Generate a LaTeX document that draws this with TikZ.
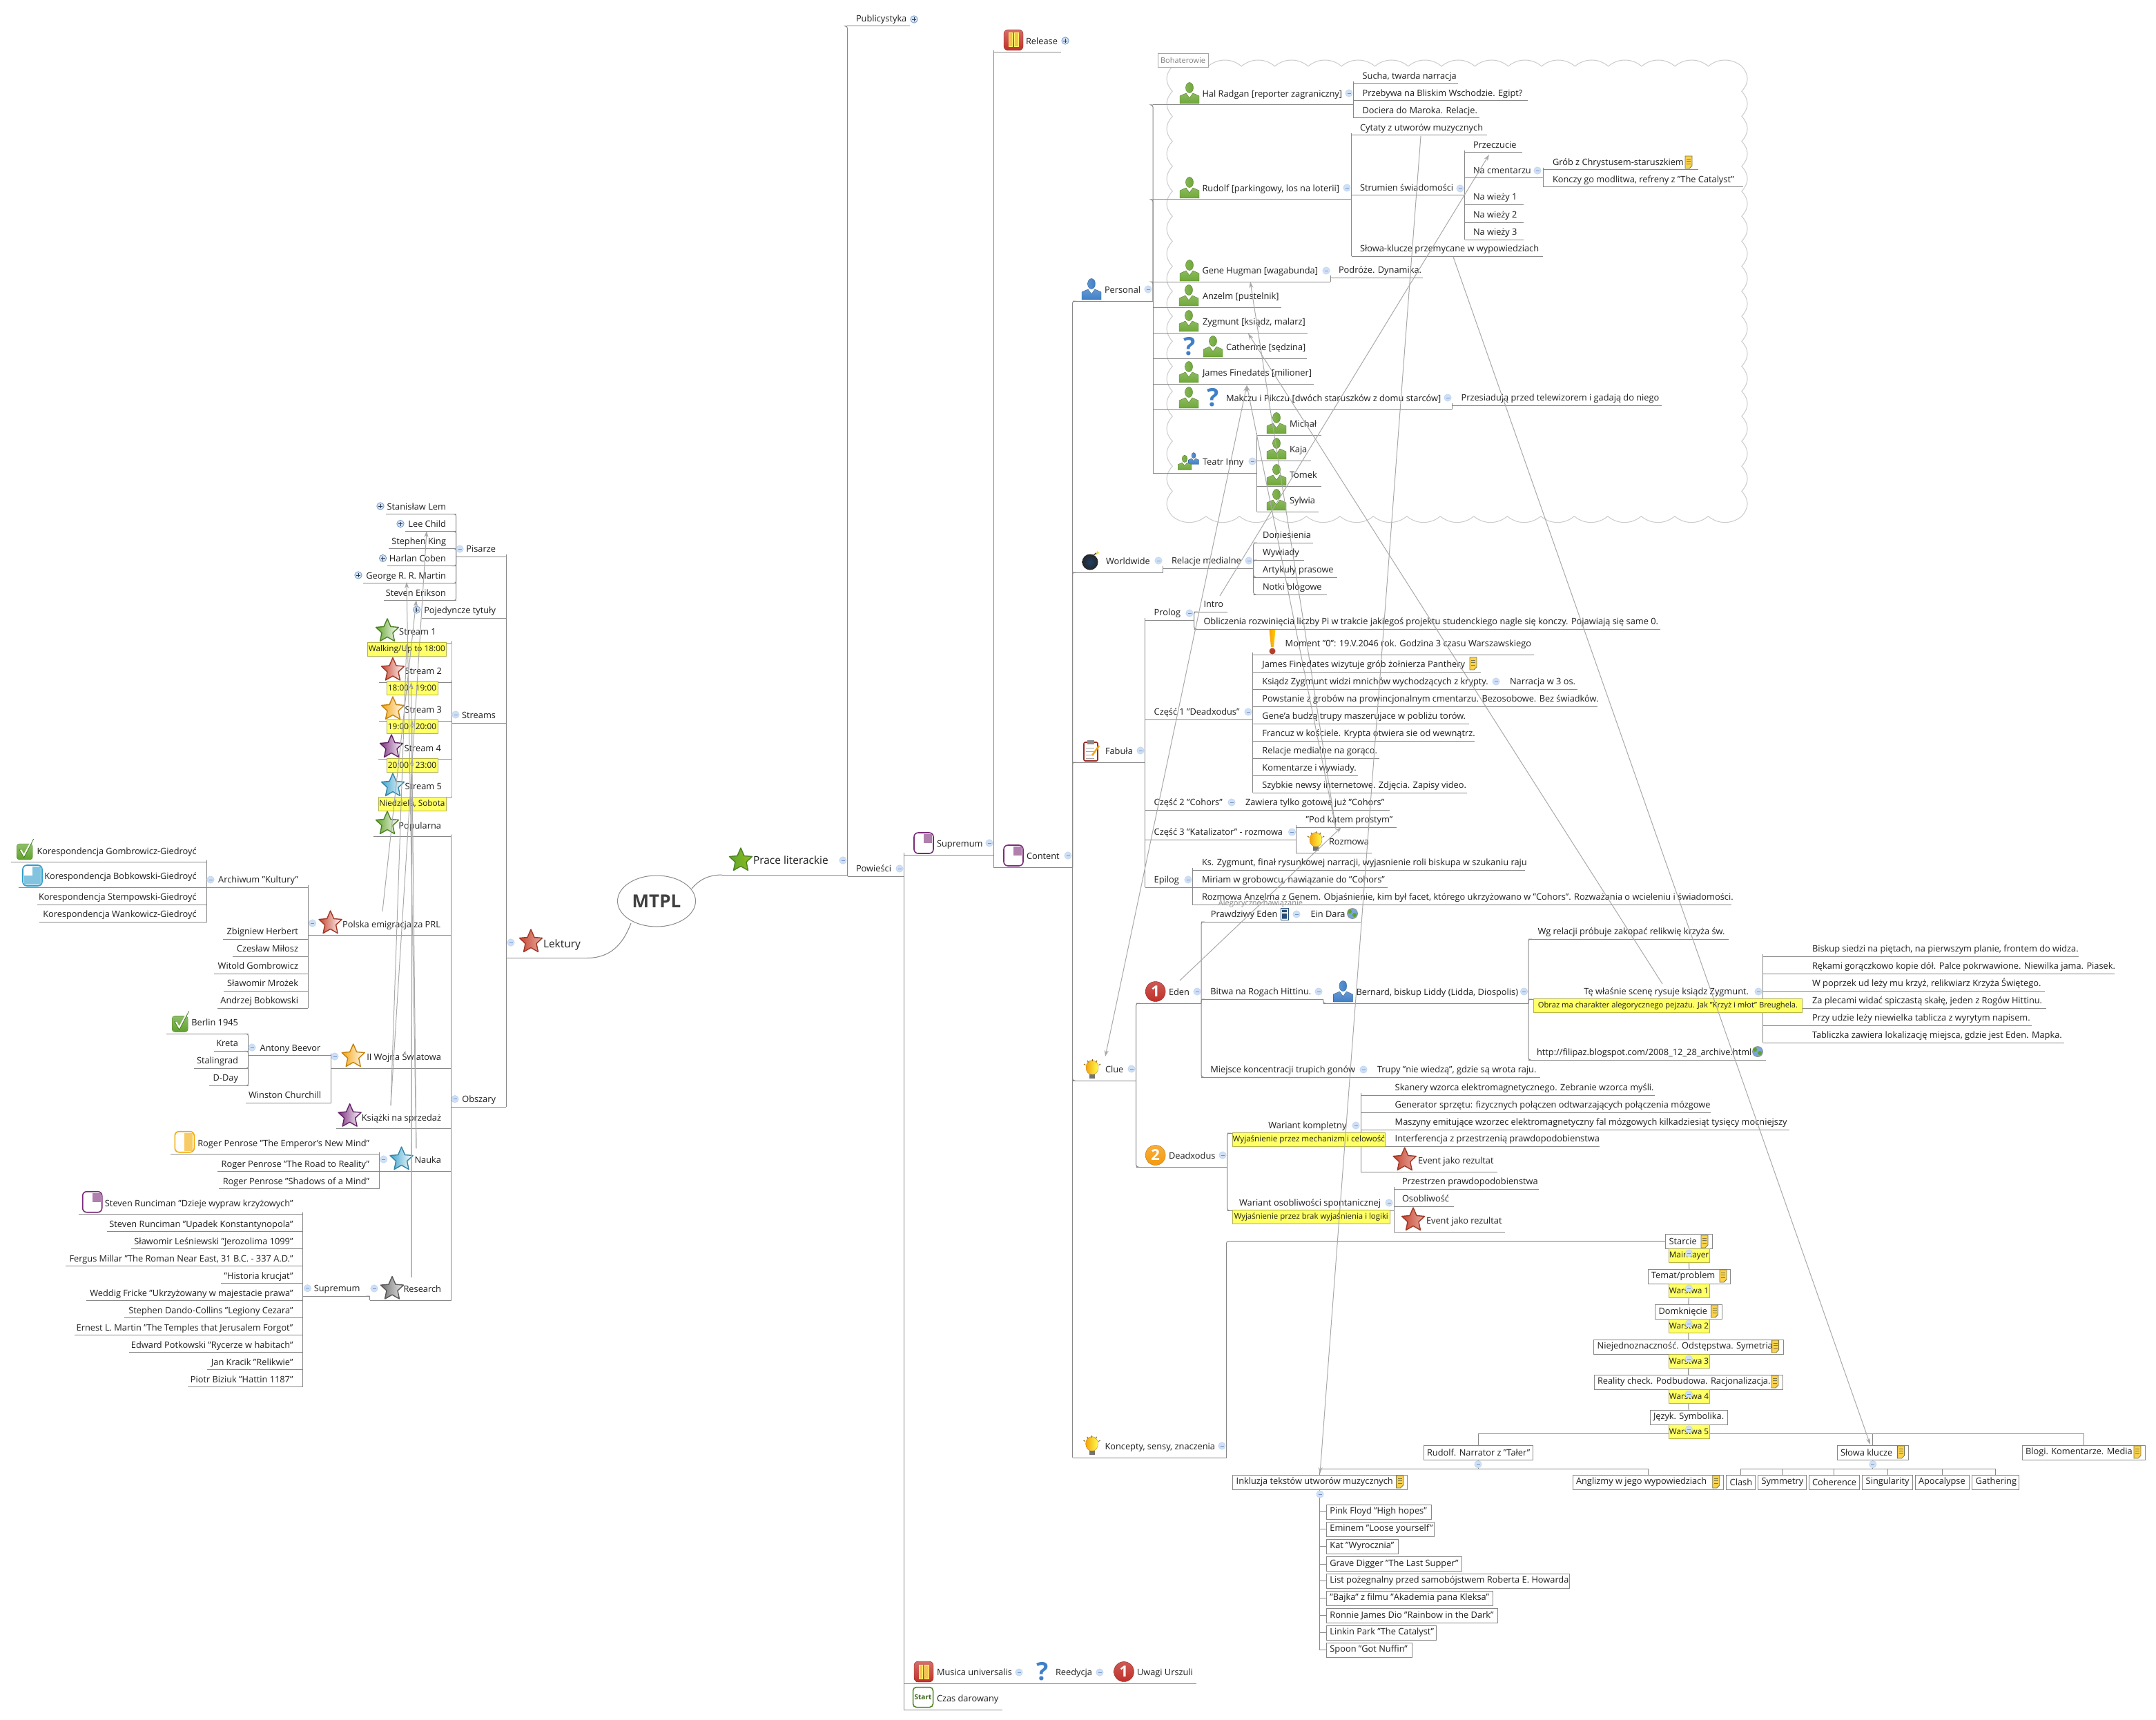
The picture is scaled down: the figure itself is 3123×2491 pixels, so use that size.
\documentclass[tikz,border=0pt]{standalone}
\usepackage{fontspec}
\setmainfont{Open Sans}
\usetikzlibrary{arrows.meta,shapes.geometric}
\definecolor{Ink}{HTML}{1E1E1E}
\definecolor{LineGray}{HTML}{888888}
\definecolor{RelGray}{HTML}{A9A9A9}
\definecolor{CloudGray}{HTML}{CBCBCB}
\definecolor{NoteYellow}{HTML}{FFFF66}
\definecolor{NoteEdge}{HTML}{B5B54A}
\definecolor{MinusBlue}{HTML}{CFE0F6}
\definecolor{MinusEdge}{HTML}{6C93C6}
\definecolor{StarGreen}{HTML}{5FA32A}
\definecolor{StarRed}{HTML}{C8452F}
\definecolor{StarOrange}{HTML}{F5A30F}
\definecolor{StarPurple}{HTML}{7B2D7F}
\definecolor{StarBlue}{HTML}{3FA5CF}
\definecolor{StarGrey}{HTML}{6E6E6E}
\definecolor{PersonGreen}{HTML}{6FA838}
\definecolor{PersonBlue}{HTML}{3F7FC7}
\definecolor{TaskPurple}{HTML}{7A2A78}
\definecolor{TaskOrange}{HTML}{F2A900}
\definecolor{TaskBlue}{HTML}{2F9CCB}
\definecolor{RedBall}{HTML}{C0302A}
\definecolor{OrangeBall}{HTML}{F59A0C}
\colorlet{Muted}{black!45}
\tikzset{
  barline/.style={draw=LineGray,line width=1pt},
  topic/.style={inner xsep=0pt,inner ysep=6.5pt,outer sep=0pt,text height=9pt,text depth=0pt,text=Ink,
    font=\fontsize{12.8}{15}\selectfont,
    append after command={(\tikzlastnode.south west) edge[barline] (\tikzlastnode.south east)}},
  iconic/.style={inner ysep=11.5pt},
  bigtopic/.style={inner ysep=15.5pt,font=\fontsize{15.5}{18}\selectfont},
  branch/.style={draw=LineGray,line width=1pt,rounded corners=3pt},
  boxtopic/.style={draw=LineGray,fill=white,line width=1pt,anchor=west,minimum height=21pt,inner xsep=5pt,inner ysep=0pt,
    outer sep=0pt,text=Ink,font=\fontsize{12.8}{15}\selectfont},
  notebox/.style={draw=NoteEdge,fill=NoteYellow,line width=.8pt,minimum height=20pt,inner sep=0pt,text=Ink,
    font=\fontsize{11.8}{14}\selectfont},
  relline/.style={draw=RelGray,line width=1pt,-{Stealth[length=9pt,width=6pt]}},
  rellabel/.style={text=Muted,font=\fontsize{11}{13}\selectfont},
  cloudline/.style={draw=CloudGray,line width=1pt},
  numdot/.style={circle,minimum size=29pt,inner sep=0pt,top color=#1!80,bottom color=#1,draw=#1!75!black,text=white,
    font=\bfseries\fontsize{22}{24}\selectfont},
  qmark/.style={inner sep=0pt,text=PersonBlue,font=\bfseries\fontsize{36}{36}\selectfont},
  pics/starpic/.style 2 args={code={
    \path[draw=#1!80!black,line width=1.4pt,left color=#1,right color=#2,line join=round]
      (0,-18) -- (5,-6.5) -- (16.5,-5.5) -- (8,2.5) -- (10.5,14.5) -- (0,8.5) -- (-10.5,14.5) -- (-8,2.5) -- (-16.5,-5.5) -- (-5,-6.5) -- cycle;
  }},
  pics/personpic/.style={code={
    \path[draw=#1!75!black,left color=#1!85,right color=#1] (0,-8) ellipse (5.5 and 7.5);
    \path[draw=#1!75!black,top color=#1!80,bottom color=#1] (-14,15) -- (-14,4) -- (-5,0) -- (0,7) -- (5,0) -- (14,4) -- (14,15) -- cycle;
  }},
  pics/bulbpic/.style={code={
    \path[draw=StarOrange!80!black,left color=StarOrange,right color=yellow!70] (0,-2) ellipse (9 and 10.5);
    \fill[black!55] (-4,8) rectangle (4,14);
    \foreach \ang in {-150,-120,-90,-60,-30} \draw[StarOrange!60!black,line width=1pt] (\ang:11) -- (\ang:14);
  }},
  pics/taskpic/.style 2 args={code={
    \draw[draw=#1,fill=white,line width=1.6pt,rounded corners=6pt] (-14,-15) rectangle (14,15);
    \fill[#1!60] #2;
  }},
  pics/checkpic/.style={code={
    \path[draw=StarGreen!75!black,top color=StarGreen!70,bottom color=StarGreen,rounded corners=4pt] (-11.5,-9) rectangle (11.5,14);
    \draw[white,line width=2.5pt] (-6,0) -- (-1,8) -- (11,-14);
    \draw[StarGreen!75!black,line width=.8pt] (-8,-1) -- (-1,11) -- (13,-16);
  }},
  pics/pausepic/.style={code={
    \path[draw=RedBall!75!black,top color=RedBall!70,bottom color=RedBall,rounded corners=6pt] (-14,-15) rectangle (14,15);
    \draw[yellow!60,fill=StarOrange!70,line width=1pt] (-7,-10) rectangle (-1.5,10) (1.5,-10) rectangle (7,10);
  }},
  pics/notepic/.style={code={
    \draw[draw=black!60!yellow,fill=yellow!55!orange!70,line width=.8pt] (-5,-9) -- (5,-9) -- (5,5) -- (1,9) -- (-5,9) -- cycle;
    \foreach \yy in {-5,-1.5,2} \draw[black!60!yellow,line width=.8pt] (-3,\yy) -- (3,\yy);
  }},
  pics/globepic/.style={code={
    \fill[PersonBlue!70] (0,0) circle (7.5);
    \fill[StarGreen] (-4,-3) circle (3) (3,2) circle (3);
    \draw[black!50,line width=.6pt] (0,0) circle (7.5);
  }},
  pics/calcpic/.style={code={
    \draw[PersonBlue!60!black,fill=white,line width=.8pt] (-5.5,-8.5) rectangle (5.5,8.5);
    \fill[PersonBlue!60!black] (-3.5,-6.5) rectangle (3.5,-3) (-3.5,-1) rectangle (3.5,6.5);
  }},
  pics/bombpic/.style={code={
    \path[inner color=PersonBlue!50!black,outer color=black!85] (0,2) circle (11.5);
    \draw[black!70,line width=1.5pt] (5,-8) -- (9,-11);
    \fill[yellow!80!orange] (10,-14) -- (13,-11) -- (9,-9) -- cycle;
  }},
  pics/clippic/.style={code={
    \draw[RedBall!80!black,fill=white,line width=1.6pt,rounded corners=2pt] (-10,-12) rectangle (10,15);
    \fill[black!45] (-5,-15) rectangle (5,-9);
    \foreach \yy in {-4,1,6,11} \draw[black!35,line width=.8pt] (-7,\yy) -- (5,\yy);
    \draw[StarOrange,line width=2.5pt] (2,7) -- (12,-7);
  }},
  pics/exclampic/.style={code={
    \path[left color=StarOrange,right color=yellow!60!orange] (-4.5,-18) -- (4.5,-18) -- (2,7) -- (-2,7) -- cycle;
    \fill[StarRed!90!black] (0,13) circle (4.5);
  }},
  pics/minuspic/.style={code={
    \draw[MinusBlue!85!MinusEdge,fill=MinusBlue,line width=.6pt] (0,0) circle (5.2);
    \draw[MinusEdge,line width=.9pt] (-2.5,0) -- (2.5,0);
  }},
  pics/pluspic/.style={code={
    \draw[MinusEdge,fill=MinusBlue,line width=.7pt] (0,0) circle (5.2);
    \draw[black!60!MinusEdge,line width=.9pt] (-3,0) -- (3,0) (0,-3) -- (0,3);
  }}
}
\newcommand{\rtopic}[7][]{\node[topic,anchor=south west,#1] (#2) at (#3,#4) {\makebox[\dimexpr#5pt-#3pt\relax][l]{\hspace*{\dimexpr#6pt-#3pt\relax}#7}};}
\newcommand{\ltopic}[7][]{\node[topic,anchor=south east,#1] (#2) at (#5,#4) {\makebox[\dimexpr#5pt-#3pt\relax][r]{#7\hspace*{\dimexpr#5pt-#6pt\relax}}};}
\newcommand{\bxtopic}[5]{\node[boxtopic] (#1) at (#2,#3) {\makebox[\dimexpr#4pt-#2pt-10pt\relax][l]{#5}};}
\begin{document}
\begin{tikzpicture}[x=1pt,y=-1pt]
\useasboundingbox[fill=white] (0,0) rectangle (3123,2491);
% cloud round the cast
\draw[cloudline] (1750,96)
  foreach \i in {1,...,16} { .. controls +(14,-12) and +(-14,-12) .. ++(48.3,0) }
  foreach \i in {1,...,18} { .. controls +(11,12) and +(11,-12) .. ++(0,36.2) }
  foreach \i in {1,...,17} { .. controls +(-14,12) and +(14,12) .. ++(-48.5,0) }
  foreach \i in {1,...,18} { .. controls +(-11,-12) and +(-11,12) .. ++(0,-36.2) };
\node[draw=black!35,fill=white,text=black!50,minimum width=73pt,minimum height=20pt,inner sep=0pt,font=\fontsize{11}{13}\selectfont] (bohaterowie) at (1713.5,87) {Bohaterowie};
% root
\node[draw=black!45,line width=1pt,ellipse,minimum width=113pt,minimum height=74pt,inner sep=0pt,text=black!75,font=\bfseries\fontsize{26}{30}\selectfont] (mtpl) at (951,1305) {MTPL};
% right side
\rtopic[bigtopic]{prace}{1046}{1267}{1227.5}{1091}{Prace literackie}
\rtopic{publicystyka}{1227}{38}{1318}{1240}{Publicystyka}
\rtopic{powiesci}{1227.5}{1269}{1309}{1240}{Powieści}
\rtopic[iconic]{release}{1439}{76}{1537}{1486}{Release}
\rtopic[iconic]{supremum}{1309}{1238}{1439}{1357}{Supremum}
\rtopic[iconic]{content}{1439}{1256}{1553.5}{1487}{Content}
\rtopic[iconic]{musica}{1309}{2438}{1490}{1357}{Musica universalis}
\rtopic[iconic]{reedycja}{1490}{2438}{1600}{1529}{Reedycja}
\rtopic[iconic]{uwagi}{1600}{2438}{1733}{1647}{Uwagi Urszuli}
\rtopic[iconic]{czas}{1309}{2476}{1452}{1357}{Czas darowany}
\rtopic[iconic]{personal}{1554}{436}{1670}{1600}{Personal}
\rtopic[iconic]{worldwide}{1554}{829}{1684.5}{1602}{Worldwide}
\rtopic[iconic]{fabula}{1554}{1104}{1658.5}{1601}{Fabuła}
\rtopic[iconic]{clue}{1554}{1565}{1645.7}{1601}{Clue}
\rtopic[iconic]{koncepty}{1553.5}{2111}{1776.5}{1600.5}{Koncepty, sensy, znaczenia}
% the cast
\rtopic[iconic]{hal}{1669.5}{152}{1960}{1741.5}{Hal Radgan [reporter zagraniczny]}
\rtopic[iconic]{rudolf}{1669.5}{289}{1957.6}{1741.5}{Rudolf [parkingowy, los na loterii]}
\rtopic[iconic]{gene}{1669.5}{408}{1927}{1741.5}{Gene Hugman [wagabunda]}
\rtopic[iconic]{anzelm}{1670}{445}{1856}{1742}{Anzelm [pustelnik]}
\rtopic[iconic]{zygmunt}{1670}{482}{1894}{1742}{Zygmunt [ksiądz, malarz]}
\rtopic[iconic]{catherine}{1670}{519}{1893}{1776}{Catherine [sędzina]}
\rtopic[iconic]{james}{1670}{556}{1903}{1742}{James Finedates [milioner]}
\rtopic[iconic]{makczu}{1670}{593}{2103}{1776}{Makczu i Pikczu [dwóch staruszków z domu starców]}
\rtopic[iconic]{teatr}{1670}{685}{1820.6}{1742}{Teatr Inny}
\rtopic{sucha}{1960}{121}{2112}{1973.6}{Sucha, twarda narracja}
\rtopic{przebywa}{1960}{146}{2213}{1973.6}{Przebywa na Bliskim Wschodzie. Egipt?}
\rtopic{dociera}{1960}{171}{2142.6}{1973.6}{Dociera do Maroka. Relacje.}
\rtopic{cytaty}{1957.6}{196}{2153.5}{1970}{Cytaty z utworów muzycznych}
\rtopic{strumien}{1957.6}{283}{2121.6}{1970}{Strumien świadomości}
\rtopic{slowaprzem}{1957.6}{371}{2234.5}{1970}{Słowa-klucze przemycane w wypowiedziach}
\rtopic{przeczucie}{2121.6}{221}{2205}{2134}{Przeczucie}
\rtopic{cmentarz}{2121.6}{258}{2235}{2134}{Na cmentarzu}
\rtopic{wieza1}{2121.6}{296}{2207}{2134}{Na wieży 1}
\rtopic{wieza2}{2121.6}{322}{2207}{2134}{Na wieży 2}
\rtopic{wieza3}{2121.6}{347}{2207}{2134}{Na wieży 3}
\rtopic{grob}{2235}{246}{2460}{2249}{Grób z Chrystusem-staruszkiem}
\rtopic{konczy}{2235}{271}{2525}{2249}{Konczy go modlitwa, refreny z "The Catalyst"}
\rtopic{podroze}{1927}{402}{2061}{1939}{Podróże. Dynamika.}
\rtopic{przesiaduja}{2103}{587}{2407}{2116.6}{Przesiadują przed telewizorem i gadają do niego}
\rtopic[iconic]{michal}{1820.6}{630}{1914}{1868}{Michał}
\rtopic[iconic]{kaja}{1820.6}{667}{1898.5}{1868}{Kaja}
\rtopic[iconic]{tomek}{1820.6}{704}{1914}{1868}{Tomek}
\rtopic[iconic]{sylwia}{1820.6}{741}{1910}{1868}{Sylwia}
\rtopic{relacje}{1684.5}{823}{1815.7}{1697}{Relacje medialne}
\rtopic{doniesienia}{1815.7}{786}{1902}{1829}{Doniesienia}
\rtopic{wywiady}{1815.7}{811}{1889}{1829}{Wywiady}
\rtopic{artykuly}{1815.7}{836}{1937}{1829}{Artykuły prasowe}
\rtopic{notki}{1815.7}{861}{1921.6}{1829}{Notki blogowe}
% plot
\rtopic{prolog}{1658.5}{898}{1729.7}{1671.7}{Prolog}
\rtopic{czesc1}{1658.5}{1042}{1814.6}{1671.7}{Część 1 "Deadxodus"}
\rtopic{czesc2}{1658.5}{1173}{1790}{1671.7}{Część 2 "Cohors"}
\rtopic{czesc3}{1658.5}{1216}{1877}{1671.7}{Część 3 "Katalizator" - rozmowa}
\rtopic{epilog}{1658.5}{1285}{1727.4}{1671.7}{Epilog}
\rtopic{intro}{1729.7}{886}{1778}{1743.5}{Intro}
\rtopic{obliczenia}{1729.7}{911}{2405}{1743.5}{Obliczenia rozwinięcia liczby Pi w trakcie jakiegoś projektu studenckiego nagle się konczy. Pojawiają się same 0.}
\rtopic[iconic]{moment}{1814.6}{948}{2221.6}{1861.7}{Moment "0": 19.V.2046 rok. Godzina 3 czasu Warszawskiego}
\rtopic{wizytuje}{1814.6}{973}{2144.7}{1828.4}{James Finedates wizytuje grób żołnierza Panthery}
\rtopic{ksiadz}{1814.6}{998}{2173}{1828.4}{Ksiądz Zygmunt widzi mnichów wychodzących z krypty.}
\rtopic{narracja}{2173}{998}{2285}{2187}{Narracja w 3 os.}
\rtopic{powstanie}{1814.6}{1023}{2313.5}{1828.4}{Powstanie z grobów na prowincjonalnym cmentarzu. Bezosobowe. Bez świadków.}
\rtopic{budza}{1814.6}{1048}{2127.5}{1828.4}{Gene'a budzą trupy maszerujace w pobliżu torów.}
\rtopic{francuz}{1814.6}{1073}{2135.5}{1828.4}{Francuz w kościele. Krypta otwiera sie od wewnątrz.}
\rtopic{nagoraco}{1814.6}{1098}{1998}{1828.4}{Relacje medialne na gorąco.}
\rtopic{komentarze}{1814.6}{1123}{1967}{1828.4}{Komentarze i wywiady.}
\rtopic{newsy}{1814.6}{1148}{2125}{1828.4}{Szybkie newsy internetowe. Zdjęcia. Zapisy video.}
\rtopic{zawiera}{1790}{1173}{2012.7}{1804}{Zawiera tylko gotowe już "Cohors"}
\rtopic{katem}{1877}{1198}{2022.5}{1891.6}{"Pod kątem prostym"}
\rtopic[iconic]{rozmowa}{1877}{1235}{1987.4}{1925}{Rozmowa}
\rtopic{finalrys}{1727.4}{1260}{2209}{1741}{Ks. Zygmunt, finał rysunkowej narracji, wyjasnienie roli biskupa w szukaniu raju}
\rtopic{miriam}{1727.4}{1285}{2010}{1741}{Miriam w grobowcu, nawiązanie do "Cohors"}
\rtopic{anzelmgen}{1727.4}{1310}{2507.5}{1741}{Rozmowa Anzelma z Genem. Objaśnienie, kim był facet, którego ukrzyżowano w "Cohors". Rozważania o wcieleniu i świadomości.}
% clue
\rtopic[iconic]{eden}{1645.7}{1453}{1740}{1693}{Eden}
\rtopic[iconic]{deadxodus}{1645.7}{1690}{1777.7}{1693}{Deadxodus}
\rtopic{prawdziwy}{1740}{1335}{1885}{1753.8}{Prawdziwy Eden}
\rtopic{eindara}{1885}{1335}{1971}{1898.5}{Ein Dara}
\rtopic{bitwa}{1740}{1447}{1916.7}{1753.4}{Bitwa na Rogach Hittinu.}
\rtopic[iconic]{bernard}{1916.7}{1453}{2214}{1964.5}{Bernard, biskup Liddy (Lidda, Diospolis)}
\rtopic{miejsce}{1740}{1560}{1981}{1753.4}{Miejsce koncentracji trupich gonów}
\rtopic{trupy}{1981}{1560}{2231}{1995}{Trupy "nie wiedzą", gdzie są wrota raju.}
\rtopic{wgrelacji}{2214}{1360}{2504}{2227.6}{Wg relacji próbuje zakopać relikwię krzyża św.}
\ltopic{scena}{2214}{1447}{2553.5}{2533}{Tę właśnie scenę rysuje ksiądz Zygmunt.}
\rtopic{archiwe}{2214}{1535}{2558}{2226}{http://filipaz.blogspot.com/2008\_12\_28\_archive.html}
\rtopic{biskup}{2553.5}{1385}{3011}{2625}{Biskup siedzi na piętach, na pierwszym planie, frontem do widza.}
\rtopic{rekami}{2553.5}{1410}{3062.5}{2625}{Rękami gorączkowo kopie dół. Palce pokrwawione. Niewilka jama. Piasek.}
\rtopic{wpoprzek}{2553.5}{1435}{2962}{2625}{W poprzek ud leży mu krzyż, relikwiarz Krzyża Świętego.}
\rtopic{zaplecami}{2553.5}{1460}{2964}{2625}{Za plecami widać spiczastą skałę, jeden z Rogów Hittinu.}
\rtopic{przyudzie}{2553.5}{1485}{2943}{2625}{Przy udzie leży niewielka tablicza z wyrytym napisem.}
\rtopic{tabliczka}{2553.5}{1510}{2990}{2625}{Tabliczka zawiera lokalizację miejsca, gdzie jest Eden. Mapka.}
\ltopic{kompletny}{1777.7}{1641}{1971}{1950.5}{Wariant kompletny}
\ltopic{osobliwosci}{1777.7}{1753}{2019}{2000}{Wariant osobliwości spontanicznej}
\rtopic{skanery}{1971}{1586}{2397}{2020.7}{Skanery wzorca elektromagnetycznego. Zebranie wzorca myśli.}
\rtopic{generator}{1971}{1611}{2478}{2020.7}{Generator sprzętu: fizycznych połączen odtwarzających połączenia mózgowe}
\rtopic{maszyny}{1971}{1636}{2592}{2020.7}{Maszyny emitujące wzorzec elektromagnetyczny fal mózgowych kilkadziesiąt tysięcy mocniejszy}
\rtopic{interferencja}{1971}{1660}{2317}{2020.7}{Interferencja z przestrzenią prawdopodobienstwa}
\rtopic[iconic]{eventa}{1971}{1697}{2168.6}{2054}{Event jako rezultat}
\rtopic{przestrzen}{2019}{1722}{2229}{2031}{Przestrzen prawdopodobienstwa}
\rtopic{osobliwosc}{2019}{1747}{2106}{2031}{Osobliwość}
\rtopic[iconic]{eventb}{2019}{1784}{2179.5}{2066}{Event jako rezultat}
% boxed part
\bxtopic{starcie}{2412.6}{1797.5}{2480}{Starcie}
\bxtopic{temat}{2387}{1848.5}{2506.5}{Temat/problem}
\bxtopic{domkniecie}{2397.6}{1899.5}{2494}{Domknięcie}
\bxtopic{niejedno}{2308.7}{1950.5}{2583}{Niejednoznaczność. Odstępstwa. Symetria}
\bxtopic{reality}{2309}{2001.5}{2582}{Reality check. Podbudowa. Racjonalizacja.}
\bxtopic{jezyk}{2390}{2052.5}{2502}{Język. Symbolika.}
\bxtopic{narrator}{2062}{2103.5}{2220.6}{Rudolf. Narrator z "Tałer"}
\bxtopic{slowa}{2661}{2103.5}{2764}{Słowa klucze}
\bxtopic{blogi}{2929}{2103.5}{3107}{Blogi. Komentarze. Media}
\bxtopic{inkluzja}{1785.7}{2146.5}{2038}{Inkluzja tekstów utworów muzycznych}
\bxtopic{anglizmy}{2278}{2146.5}{2496.4}{Anglizmy w jego wypowiedziach}
\bxtopic{clash}{2500.7}{2146.5}{2542}{Clash}
\bxtopic{symmetry}{2546.6}{2146.5}{2616}{Symmetry}
\bxtopic{coherence}{2620}{2146.5}{2693.4}{Coherence}
\bxtopic{singularity}{2697.7}{2146.5}{2770.8}{Singularity}
\bxtopic{apocalypse}{2774}{2146.5}{2852.4}{Apocalypse}
\bxtopic{gathering}{2856.7}{2146.5}{2924}{Gathering}
\bxtopic{pinkfloyd}{1921.4}{2189.5}{2073.5}{Pink Floyd "High hopes"}
\bxtopic{eminem}{1921.4}{2214.5}{2077.5}{Eminem "Loose yourself"}
\bxtopic{kat}{1921.4}{2239.5}{2025.5}{Kat "Wyrocznia"}
\bxtopic{gravedigger}{1921.4}{2265}{2117}{Grave Digger "The Last Supper"}
\bxtopic{listpozeg}{1921.4}{2289.5}{2273.5}{List pożegnalny przed samobójstwem Roberta E. Howarda}
\bxtopic{bajka}{1921.4}{2314.5}{2162}{"Bajka" z filmu "Akademia pana Kleksa"}
\bxtopic{ronnie}{1921.4}{2339.5}{2169.4}{Ronnie James Dio "Rainbow in the Dark"}
\bxtopic{linkin}{1921.4}{2364.5}{2080.6}{Linkin Park "The Catalyst"}
\bxtopic{spoon}{1921.4}{2389.5}{2045.4}{Spoon "Got Nuffin"}
% left side
\rtopic[bigtopic]{lektury}{733}{1387.5}{850}{787}{Lektury}
\ltopic{pisarze}{660.7}{806}{733}{718}{Pisarze}
\ltopic{pojedyncze}{611}{895}{733}{718}{Pojedyncze tytuły}
\ltopic{streams}{654}{1047}{733}{718}{Streams}
\ltopic{obszary}{653.6}{1603}{733}{718}{Obszary}
\ltopic{lem}{558.7}{744.6}{660.7}{646}{Stanisław Lem}
\ltopic{leechild}{586.7}{769.6}{660.7}{646}{Lee Child}
\ltopic{king}{563}{794.6}{660.7}{646}{Stephen King}
\ltopic{coben}{561}{819.6}{660.7}{646}{Harlan Coben}
\ltopic{martin}{525.5}{844.6}{660.7}{646}{George R. R. Martin}
\ltopic{erikson}{556}{869.6}{660.7}{646}{Steven Erikson}
\ltopic[iconic]{stream1}{533}{931}{654}{631.6}{Stream 1}
\ltopic[iconic]{stream2}{548.5}{988}{654}{640}{Stream 2}
\ltopic[iconic]{stream3}{548.5}{1044}{654}{640}{Stream 3}
\ltopic[iconic]{stream4}{548}{1099.6}{654}{639}{Stream 4}
\ltopic[iconic]{stream5}{548.5}{1155}{654}{640}{Stream 5}
\ltopic[iconic]{popularna}{541}{1211.6}{653.6}{639}{Popularna}
\ltopic[iconic]{polska}{446.4}{1354.5}{653.6}{638}{Polska emigracja za PRL}
\ltopic[iconic]{wojna}{479.6}{1547.4}{653.6}{639}{II Wojna Światowa}
\ltopic[iconic]{ksiazki}{487}{1634.5}{653.6}{639}{Książki na sprzedaż}
\ltopic[iconic]{nauka}{549.5}{1696}{653.6}{639}{Nauka}
\ltopic[iconic]{research}{535.7}{1883}{653.6}{639}{Research}
\ltopic{kultura}{299.5}{1285}{446.4}{432}{Archiwum "Kultury"}
\ltopic{herbert}{323}{1360}{446.4}{432}{Zbigniew Herbert}
\ltopic{milosz}{337}{1385}{446.4}{432}{Czesław Miłosz}
\ltopic{gombrowicz}{309.7}{1410}{446.4}{432}{Witold Gombrowicz}
\ltopic{mrozek}{324}{1435}{446.4}{432}{Sławomir Mrożek}
\ltopic{bobkowski}{315}{1460}{446.4}{432}{Andrzej Bobkowski}
\ltopic[iconic]{korgomb}{16}{1248.7}{299.5}{284.7}{Korespondencja Gombrowicz-Giedroyć}
\ltopic[iconic]{korbob}{26.5}{1285}{299.5}{284.7}{Korespondencja Bobkowski-Giedroyć}
\ltopic{korstem}{53.6}{1310}{299.5}{284.7}{Korespondencja Stempowski-Giedroyć}
\ltopic{korwank}{57}{1335}{299.5}{284.7}{Korespondencja Wankowicz-Giedroyć}
\ltopic{beevor}{359.7}{1528.7}{479.6}{464.3}{Antony Beevor}
\ltopic{churchill}{355.6}{1597}{479.6}{465}{Winston Churchill}
\ltopic[iconic]{berlin}{240.8}{1497.4}{359.7}{345}{Berlin 1945}
\ltopic{kreta}{309.7}{1522.4}{359.7}{345}{Kreta}
\ltopic{stalingrad}{281}{1547.4}{359.7}{345}{Stalingrad}
\ltopic{dday}{302.6}{1572.4}{359.7}{345}{D-Day}
\ltopic[iconic]{emperor}{247.4}{1671.5}{549.5}{535.2}{Roger Penrose "The Emperor's New Mind"}
\ltopic{road}{314.8}{1696.5}{549.5}{535.2}{Roger Penrose "The Road to Reality"}
\ltopic{shadows}{317.3}{1721.5}{549.5}{535.2}{Roger Penrose "Shadows of a Mind"}
\ltopic{supremumb}{438.8}{1877}{535.7}{521.4}{Supremum}
\ltopic[iconic]{dzieje}{113.8}{1758.6}{438.8}{424.5}{Steven Runciman "Dzieje wypraw krzyżowych"}
\ltopic{upadek}{155}{1783.6}{438.8}{424.5}{Steven Runciman "Upadek Konstantynopola"}
\ltopic{jerozolima}{189.8}{1808.6}{438.8}{424.5}{Sławomir Leśniewski "Jerozolima 1099"}
\ltopic{millar}{95}{1833.6}{438.8}{424.5}{Fergus Millar "The Roman Near East, 31 B.C. - 337 A.D."}
\ltopic{krucjat}{320}{1858.6}{438.8}{424.5}{"Historia krucjat"}
\ltopic{fricke}{125}{1883.6}{438.8}{424.5}{Weddig Fricke "Ukrzyżowany w majestacie prawa"}
\ltopic{legiony}{179.6}{1908.6}{438.8}{424.5}{Stephen Dando-Collins "Legiony Cezara"}
\ltopic{temples}{108}{1933.6}{438.8}{424.5}{Ernest L. Martin "The Temples that Jerusalem Forgot"}
\ltopic{rycerze}{186.7}{1958.6}{438.8}{424.5}{Edward Potkowski "Rycerze w habitach"}
\ltopic{relikwie}{299.5}{1983.6}{438.8}{424.5}{Jan Kracik "Relikwie"}
\ltopic{hattin}{272}{2008.6}{438.8}{424.5}{Piotr Biziuk "Hattin 1187"}
% connectors
\draw[branch] (prace.south west) .. controls +(-21,0) and (1012,1275) .. (1002,1287);
\draw[branch] (lektury.south east) .. controls +(40,0) and (905,1360) .. (914,1337);
\foreach \c in {publicystyka,powiesci} \draw[branch] (prace.south east) |- (\c.south west);
\foreach \c in {supremum,musica,czas} \draw[branch] (powiesci.south east) |- (\c.south west);
\foreach \c in {release,content} \draw[branch] (supremum.south east) |- (\c.south west);
\draw[branch] (musica.south east) -- (reedycja.south west) (reedycja.south east) -- (uwagi.south west);
\foreach \c in {personal,worldwide,fabula,clue,koncepty} \draw[branch] (content.south east) |- (\c.south west);
\foreach \c in {hal,rudolf,gene,anzelm,zygmunt,catherine,james,makczu,teatr} \draw[branch] (personal.south east) |- (\c.south west);
\foreach \c in {sucha,przebywa,dociera} \draw[branch] (hal.south east) |- (\c.south west);
\foreach \c in {cytaty,strumien,slowaprzem} \draw[branch] (rudolf.south east) |- (\c.south west);
\foreach \c in {przeczucie,cmentarz,wieza1,wieza2,wieza3} \draw[branch] (strumien.south east) |- (\c.south west);
\foreach \c in {grob,konczy} \draw[branch] (cmentarz.south east) |- (\c.south west);
\draw[branch] (gene.south east) |- (podroze.south west);
\draw[branch] (makczu.south east) |- (przesiaduja.south west);
\foreach \c in {michal,kaja,tomek,sylwia} \draw[branch] (teatr.south east) |- (\c.south west);
\draw[branch] (worldwide.south east) |- (relacje.south west);
\foreach \c in {doniesienia,wywiady,artykuly,notki} \draw[branch] (relacje.south east) |- (\c.south west);
\foreach \c in {prolog,czesc1,czesc2,czesc3,epilog} \draw[branch] (fabula.south east) |- (\c.south west);
\foreach \c in {intro,obliczenia} \draw[branch] (prolog.south east) |- (\c.south west);
\foreach \c in {moment,wizytuje,ksiadz,powstanie,budza,francuz,nagoraco,komentarze,newsy} \draw[branch] (czesc1.south east) |- (\c.south west);
\draw[branch] (ksiadz.south east) -- (narracja.south west);
\draw[branch] (czesc2.south east) -- (zawiera.south west);
\foreach \c in {katem,rozmowa} \draw[branch] (czesc3.south east) |- (\c.south west);
\foreach \c in {finalrys,miriam,anzelmgen} \draw[branch] (epilog.south east) |- (\c.south west);
\foreach \c in {eden,deadxodus} \draw[branch] (clue.south east) |- (\c.south west);
\foreach \c in {prawdziwy,bitwa,miejsce} \draw[branch] (eden.south east) |- (\c.south west);
\draw[branch] (prawdziwy.south east) -- (eindara.south west);
\draw[branch] (bitwa.south east) |- (bernard.south west);
\draw[branch] (miejsce.south east) -- (trupy.south west);
\foreach \c in {wgrelacji,scena,archiwe} \draw[branch] (bernard.south east) |- (\c.south west);
\foreach \c in {biskup,rekami,wpoprzek,zaplecami,przyudzie,tabliczka} \draw[branch] (scena.south east) |- (\c.south west);
\foreach \c in {kompletny,osobliwosci} \draw[branch] (deadxodus.south east) |- (\c.south west);
\foreach \c in {skanery,generator,maszyny,interferencja,eventa} \draw[branch] (kompletny.south east) |- (\c.south west);
\foreach \c in {przestrzen,osobliwosc,eventb} \draw[branch] (osobliwosci.south east) |- (\c.south west);
\draw[branch] (koncepty.south east) |- (starcie.west);
\draw[branch,rounded corners=0pt] (starcie.south) -- (temat.north) (temat.south) -- (domkniecie.north) (domkniecie.south) -- (niejedno.north) (niejedno.south) -- (reality.north) (reality.south) -- (jezyk.north);
\foreach \c in {narrator,slowa,blogi} \draw[branch,rounded corners=0pt] (jezyk.south) |- ([yshift=17pt]\c.north) -- (\c.north);
\foreach \c in {inkluzja,anglizmy} \draw[branch,rounded corners=0pt] (narrator.south) |- ([yshift=9pt]\c.north) -- (\c.north);
\foreach \c in {clash,symmetry,coherence,singularity,apocalypse,gathering} \draw[branch,rounded corners=0pt] (slowa.south) |- ([yshift=9pt]\c.north) -- (\c.north);
\foreach \c in {pinkfloyd,eminem,kat,gravedigger,listpozeg,bajka,ronnie,linkin,spoon} \draw[branch,rounded corners=0pt] (inkluzja.south) |- (\c.west);
\foreach \c in {pisarze,pojedyncze,streams,obszary} \draw[branch] (lektury.south west) |- (\c.south east);
\foreach \c in {lem,leechild,king,coben,martin,erikson} \draw[branch] (pisarze.south west) |- (\c.south east);
\foreach \c in {stream1,stream2,stream3,stream4,stream5} \draw[branch] (streams.south west) |- (\c.south east);
\foreach \c in {popularna,polska,wojna,ksiazki,nauka,research} \draw[branch] (obszary.south west) |- (\c.south east);
\foreach \c in {kultura,herbert,milosz,gombrowicz,mrozek,bobkowski} \draw[branch] (polska.south west) |- (\c.south east);
\foreach \c in {korgomb,korbob,korstem,korwank} \draw[branch] (kultura.south west) |- (\c.south east);
\foreach \c in {beevor,churchill} \draw[branch] (wojna.south west) |- (\c.south east);
\foreach \c in {berlin,kreta,stalingrad,dday} \draw[branch] (beevor.south west) |- (\c.south east);
\foreach \c in {emperor,road,shadows} \draw[branch] (nauka.south west) |- (\c.south east);
\draw[branch] (research.south west) |- (supremumb.south east);
\foreach \c in {dzieje,upadek,jerozolima,millar,krucjat,fricke,legiony,temples,rycerze,relikwie,hattin} \draw[branch] (supremumb.south west) |- (\c.south east);
% yellow labels
\node[notebox,minimum width=114.7pt] (walking) at (589.4,940) {Walking/Up to 18:00};
\node[notebox,minimum width=74pt] (czas1819) at (597,996) {18:00 - 19:00};
\node[notebox,minimum width=74pt] (czas1920) at (597,1052) {19:00 - 20:00};
\node[notebox,minimum width=74pt] (czas2023) at (597,1108) {20:00 - 23:00};
\node[notebox,minimum width=98pt] (niedziela) at (597,1164) {Niedziela, Sobota};
\node[notebox,minimum width=389pt,font=\fontsize{11.2}{13}\selectfont] (obraz) at (2416,1456.5) {Obraz ma charakter alegorycznego pejzażu. Jak "Krzyż i młot" Breughela.};
\node[notebox,minimum width=221.6pt,font=\fontsize{11.6}{13}\selectfont] (mechanizm) at (1895.8,1650) {Wyjaśnienie przez mechanizm i celowość};
\node[notebox,minimum width=228.6pt,font=\fontsize{11.4}{13}\selectfont] (braklogiki) at (1899.3,1762.5) {Wyjaśnienie przez brak wyjaśnienia i logiki};
\node[notebox,minimum width=59pt] (mainlayer) at (2446.5,1818.5) {Main layer};
\foreach \n/\y in {1/1869,2/1920,3/1971,4/2022,5/2073} \node[notebox,minimum width=59pt] (warstwa\n) at (2446.5,\y) {Warstwa \n};
% icons
\foreach \x/\y/\col in {561/914/StarGreen,569/970.5/StarRed,569/1027/StarOrange,567/1082/StarPurple,569/1138/StarBlue,561/1193/StarGreen,478.6/1337/StarRed,511.7/1530/StarOrange,506.6/1616.6/StarPurple,581.6/1679/StarBlue} \pic at (\x,\y) {starpic={\col}{white}};
\pic at (568,1866.6) {starpic={StarGrey}{StarGrey!15}};
\pic at (1073,1246) {starpic={StarGreen}{StarGreen!70!yellow}};
\foreach \x/\y in {769/1364,2034.7/1680,2047/1767} \pic at (\x,\y) {starpic={StarRed}{StarRed!45}};
\foreach \x/\y in {1723/135,1723/272,1723/392,1722/428,1722/465,1757/502,1722/539,1722/576,1849/613,1849/650,1849/688,1849/724} \pic at (\x,\y) {personpic=PersonGreen};
\foreach \x/\y in {1581/419,1945.4/1436} \pic at (\x,\y) {personpic=PersonBlue};
\pic[scale=.55] at (1729,664) {personpic=PersonBlue};
\pic[scale=.7] at (1716,670) {personpic=PersonGreen};
\node[qmark] (qcatherine) at (1723,502) {?};
\node[qmark] (qmakczu) at (1757,576) {?};
\node[qmark] (qreedycja) at (1510,2421) {?};
\foreach \x/\y in {1582/1548,1906/1218,1581.6/2093} \pic at (\x,\y) {bulbpic};
\pic at (1468,58) {pausepic};
\pic at (1338,2421) {pausepic};
\foreach \x/\y in {1338/1221,1468/1239,133.7/1740.7} \pic at (\x,\y) {taskpic={TaskPurple}{(0,-13) rectangle (12,0)}};
\pic at (267.3,1653.7) {taskpic={TaskOrange}{(0,-13) rectangle (12,13)}};
\pic at (47,1268) {taskpic={TaskBlue}{(-12,0) rectangle (12,13) (0,-13) rectangle (12,0)}};
\foreach \x/\y in {35.7/1231,260.7/1480.4} \pic at (\x,\y) {checkpic};
\pic at (1579,812) {bombpic};
\pic at (1580,1087) {clippic};
\pic at (1843,930) {exclampic};
\pic at (1860.6,1324) {calcpic};
\foreach \x/\y in {1959/1323,2546/1523} \pic at (\x,\y) {globepic};
\foreach \x/\y in {2446/235,2134/961,2469/1798,2496/1848,2483.5/1899,2571.6/1950,2571/2001,2753.6/2103,3096/2103,2485.7/2146,2027.5/2146} \pic at (\x,\y) {notepic};
\node[numdot=RedBall] (jeden) at (1673.7,1436) {1};
\node[numdot=OrangeBall] (dwa) at (1673.7,1673) {2};
\node[numdot=RedBall] (uwagijeden) at (1628,2421) {1};
\node[draw=StarGreen!80!black,fill=white,line width=1.5pt,rounded corners=5pt,minimum width=29pt,minimum height=29pt,inner sep=0pt,text=StarGreen!60!black,font=\bfseries\fontsize{10}{11}\selectfont] (start) at (1337,2458) {Start};
% expand marks
\foreach \x/\y in {1221/1246,1303/1258,1433/1221,1547/1239,1663/419,1678/812,1652/1087,1639/1548,1770/2094,1954/135,1951/272,1921/392,2097/576,1814/668,2115/273,2227/247,1809/812,1723/888,1808/1031,1784/1162,1871.5/1205,1721/1274,2167/987,1878/1324,1734/1436,1910/1436,1771/1673,2207.5/1436,1975/1549,2547/1436,1964/1630,2012/1742,1476/2422,1593/2422,2141/2120.7,2712.8/2120.7,1912/2164,2446.3/1815,2446.3/1866,2446.3/1917,2446.3/1968,2446.3/2019,2446.3/2070,740/1365,666/795,660/1035,659/1591.6,452.6/1337,305/1274,485/1530,365/1517,555.6/1679,542/1866,445.4/1865.7} \pic at (\x,\y) {minuspic};
\foreach \x/\y in {1324/28,1543/59,551/733,580/758.5,554.6/808.5,519/833,603.6/883} \pic at (\x,\y) {pluspic};
% links across the map
\foreach \n/\x/\y in {relKsiazki/566/1601,relPolska/554/1320,relNauka/603/1663,relResearch/596/1850,relLee/618/769,relMartin/589/843,relErikson/603/869,relStreamA/589/932,relStreamB/595.5/988,relStreamC/597/1043,relStreamD/596.5/1099,relStreamE/596/1155,relIntro/1767/863,relPrzeczucie/2157/224,relCytaty/2058/197,relInkluzja/1912/2134,relPrzemyt/2105/372,relKlucze/2709/2092,relRozmowa/1935/1200,relGene/1811/408,relJames/1806/558,relClue/1601/1530,relZygmunt/1808/483,relScena/2408/1425,relEden/1709/1420,relKatem/1943/1198} \coordinate (\n) at (\x,\y);
\draw[relline] (relKsiazki) -- (relLee);
\draw[relline] (relKsiazki) -- (relStreamA);
\draw[relline] (relPolska) -- (relErikson);
\draw[relline] (relNauka) -- (relMartin);
\draw[relline] (relNauka) -- (relStreamB);
\draw[relline] (relResearch) -- (relStreamC);
\draw[relline] (relResearch) -- (relStreamD);
\draw[relline] (relResearch) -- (relStreamE);
\draw[relline] (relIntro) -- (relPrzeczucie);
\draw[relline] (relCytaty) -- (relInkluzja);
\draw[relline] (relPrzemyt) -- (relKlucze);
\draw[relline] (relRozmowa) -- (relGene);
\draw[relline] (relRozmowa) -- (relJames);
\draw[relline,{Stealth[length=9pt,width=6pt]}-{Stealth[length=9pt,width=6pt]}] (relJames) -- (relClue);
\draw[relline] (relScena) -- (relZygmunt);
\draw[relline] (relEden) -- node[rellabel] (alegoria) {Alegoryczne nawiązanie} (relKatem);
\end{tikzpicture}
\end{document}
